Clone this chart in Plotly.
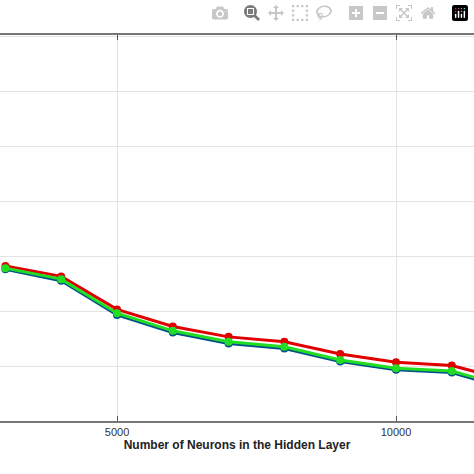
import plotly.graph_objects as go

# neurons in the hidden layer
neurons = [3000, 4000, 5000, 6000, 7000, 8000, 9000, 10000, 11000, 12000]

# values (y labels are cropped away)
green_vals = [2.78, 2.58, 1.96, 1.64, 1.44, 1.35, 1.11, 0.96, 0.91, 0.62]
red_vals = [2.82, 2.63, 2.03, 1.72, 1.53, 1.44, 1.22, 1.07, 1.01, 0.74]
blue_vals = [2.76, 2.55, 1.93, 1.61, 1.41, 1.32, 1.08, 0.93, 0.88, 0.59]

x_ticks = [5000, 10000]
x_tick_labels = ['5000', '10000']

fig = go.Figure()

for vals, color in [(blue_vals, '#00508c'), (red_vals, '#e00000'), (green_vals, '#22dd22')]:
    fig.add_trace(go.Scatter(
        x=neurons, y=vals,
        mode='lines+markers',
        line=dict(color=color, width=3),
        marker=dict(color=color, size=8),
        showlegend=False,
        cliponaxis=True,
    ))

fig.update_layout(
    width=474, height=474,
    margin=dict(l=0, r=0, t=35, b=53, pad=0),
    plot_bgcolor='white',
    paper_bgcolor='white',
    font=dict(family='Liberation Sans, Arial', color='#333333'),
)

fig.update_xaxes(
    range=[2903, 11398],
    tickvals=x_ticks, ticktext=x_tick_labels,
    ticks='inside', ticklen=5, tickcolor='#555555',
    tickfont=dict(size=11, color='#333333'),
    showgrid=True, gridcolor='#e4e4e4',
    showline=True, linecolor='#777777', linewidth=2, mirror='allticks',
    zeroline=False, automargin=False,
    title=dict(text='<b>Number of Neurons in the Hidden Layer</b>',
               font=dict(size=12, color='#222222'), standoff=2),
)
fig.update_yaxes(
    range=[0, 7.02],
    dtick=1,
    showticklabels=False,
    showgrid=True, gridcolor='#e4e4e4',
    showline=False,
    zeroline=False, automargin=False,
)

fig.write_html("out.html", post_script="document.body.style.margin='0';")
